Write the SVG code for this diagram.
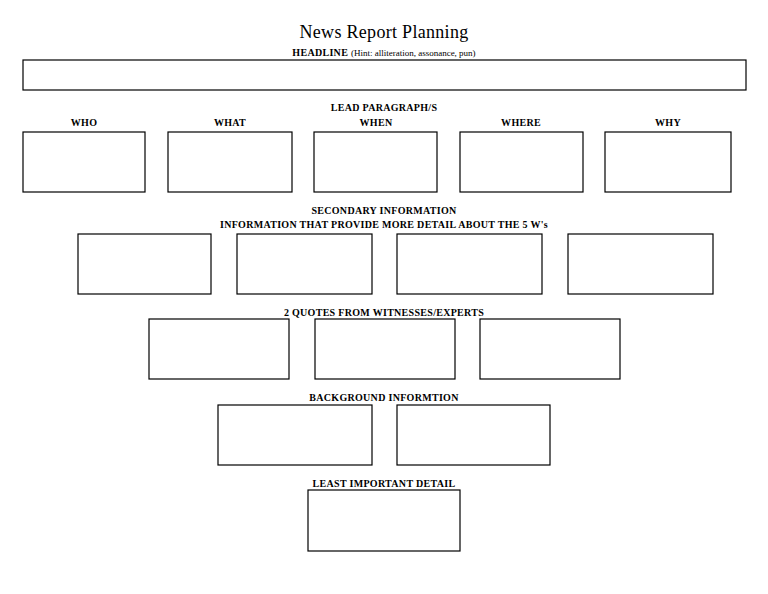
<svg xmlns="http://www.w3.org/2000/svg" width="768" height="594" viewBox="0 0 768 594">
<style>
rect.b{fill:#fff;stroke:#000;stroke-width:1.2}
text{font-family:"Liberation Serif",serif;text-anchor:middle;fill:#000}
.h{font-size:10px;font-weight:bold;letter-spacing:0.3px}
.t{font-size:18px;font-weight:normal;letter-spacing:0.3px}
.n{font-weight:normal;font-size:9px;letter-spacing:0}
</style>
<rect width="768" height="594" fill="#fff"/>
<text class="t" x="384" y="38">News Report Planning</text>
<text class="h" x="384" y="56">HEADLINE <tspan class="n">(Hint:  alliteration, assonance, pun)</tspan></text>
<g id="headline"><rect class="b" x="23" y="60" width="723" height="30"/></g>
<text class="h" x="384" y="111">LEAD PARAGRAPH/S</text>
<text class="h" x="84" y="126">WHO</text>
<text class="h" x="230" y="126">WHAT</text>
<text class="h" x="376" y="126">WHEN</text>
<text class="h" x="521" y="126">WHERE</text>
<text class="h" x="668" y="126">WHY</text>
<g id="who"><rect class="b" x="23" y="132" width="122" height="60"/></g>
<g id="what"><rect class="b" x="168" y="132" width="124" height="60"/></g>
<g id="when"><rect class="b" x="314" y="132" width="123" height="60"/></g>
<g id="where"><rect class="b" x="460" y="132" width="123" height="60"/></g>
<g id="why"><rect class="b" x="605" y="132" width="126" height="60"/></g>
<text class="h" x="384" y="214">SECONDARY INFORMATION</text>
<text class="h" x="384" y="228">INFORMATION THAT PROVIDE MORE DETAIL ABOUT THE 5 W's</text>
<g id="sec1"><rect class="b" x="78" y="234" width="133" height="60"/></g>
<g id="sec2"><rect class="b" x="237" y="234" width="135" height="60"/></g>
<g id="sec3"><rect class="b" x="397" y="234" width="145" height="60"/></g>
<g id="sec4"><rect class="b" x="568" y="234" width="145" height="60"/></g>
<text class="h" x="384" y="316">2 QUOTES FROM WITNESSES/EXPERTS</text>
<g id="q1"><rect class="b" x="149" y="319" width="140" height="60"/></g>
<g id="q2"><rect class="b" x="315" y="319" width="140" height="60"/></g>
<g id="q3"><rect class="b" x="480" y="319" width="140" height="60"/></g>
<text class="h" x="384" y="401">BACKGROUND INFORMTION</text>
<g id="bg1"><rect class="b" x="218" y="405" width="154" height="60"/></g>
<g id="bg2"><rect class="b" x="397" y="405" width="153" height="60"/></g>
<text class="h" x="384" y="487">LEAST IMPORTANT DETAIL</text>
<g id="least"><rect class="b" x="308" y="490" width="152" height="61"/></g>
<g id="connectors"/>
</svg>
